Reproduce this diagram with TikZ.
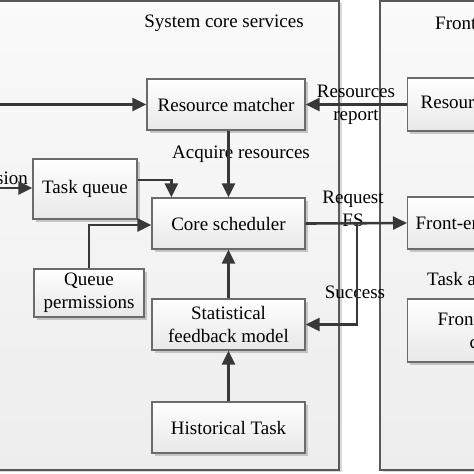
\documentclass[tikz,border=0pt]{standalone}
\usepackage{fontspec}
\setmainfont{Liberation Serif}
\usetikzlibrary{arrows.meta,shadows}
\begin{document}
\begin{tikzpicture}[x=1pt,y=-1pt,
  font=\fontsize{19}{23}\selectfont,
  panel/.style={draw=black!65, line width=1.6pt, top color=white!98!black, bottom color=black!7,
    drop shadow={shadow xshift=3pt,shadow yshift=-2pt,fill=black!25,opacity=0.6}},
  box/.style={draw=black!58, line width=1.3pt, top color=white, bottom color=black!9, inner sep=0pt, align=center,
    drop shadow={shadow xshift=2.5pt,shadow yshift=-2.5pt,fill=black!30,opacity=0.7}},
  rbox/.style={box, anchor=west, text width=260pt, align=left},
  conn/.style={draw=black!78, line width=2.6pt, -{Triangle[length=14pt,width=13pt]}},
  lbl/.style={align=center, inner sep=0pt}
]
\useasboundingbox (0,0) rectangle (474,474);
\clip (0,0) rectangle (474,474);
\fill[white] (0,0) rectangle (474,474);
% panels
\path[panel] (-20,1) rectangle (339,470);
\path[panel] (380,1) rectangle (520,470);
\node (t1) at (224,23) {System core services};
\node[anchor=west, inner sep=0pt] (t2) at (435,23) {Front-end services};
% left boxes
\node[box, minimum width=158pt, minimum height=51pt] (rm) at (226,104.5) {Resource matcher};
\node[box, minimum width=153pt, minimum height=51pt] (cs) at (228.5,223.5) {Core scheduler};
\node[box, minimum width=104pt, minimum height=60pt] (tq) at (85,189) {Task queue};
\node[box, minimum width=110pt, minimum height=48pt] (qp) at (89,293) {Queue\\permissions};
\node[box, minimum width=153pt, minimum height=51pt] (sf) at (228.5,324.5) {Statistical\\feedback model};
\node[box, minimum width=153pt, minimum height=51pt] (ht) at (228.5,427.5) {Historical Task};
% right boxes
\node[rbox, minimum height=53pt, inner xsep=13pt] (rr) at (407,104.5) {Resource reporter};
\node[rbox, minimum height=52pt, inner xsep=8pt] (fe) at (407,223) {Front-end scheduler};
\node[rbox, minimum height=63pt, inner xsep=30pt] (fl) at (407,330.5) {Front-end task\\\hspace*{32pt}control};
% labels
\node[lbl] (l1) at (356,105) {Resources\\report};
\node[lbl] (l2) at (241,154) {Acquire resources};
\node[lbl] (l3) at (353,209) {Request\\FS};
\node[lbl] (l4) at (355,292) {Success};
\node[lbl, anchor=east] (l5) at (28,178) {Submission};
\node[lbl, anchor=west] (l6) at (427,279) {Task allocation};
% connectors
\coordinate (inR) at (-5,104.5);
\coordinate (inS) at (-5,188);
\draw[conn] (inR) -- (rm.west);
\draw[conn] (rr.west) -- (rm.east);
\draw[conn] (rm.south -| cs.north) -- (cs.north);
\draw[conn] (inS) -- (tq.west |- inS);
\draw[conn] ([yshift=9pt]tq.east) -| ([xshift=20pt]cs.north west);
\draw[conn] (qp.north) |- ([yshift=-1.5pt]cs.west);
\draw[conn] (sf.north) -- (cs.south);
\draw[conn] (ht.north) -- (sf.south);
\draw[conn] (cs.east) -- (fe.west);
\coordinate (sx) at (357,223.5);
\draw[conn] (sx) |- (sf.east);
\end{tikzpicture}
\end{document}
